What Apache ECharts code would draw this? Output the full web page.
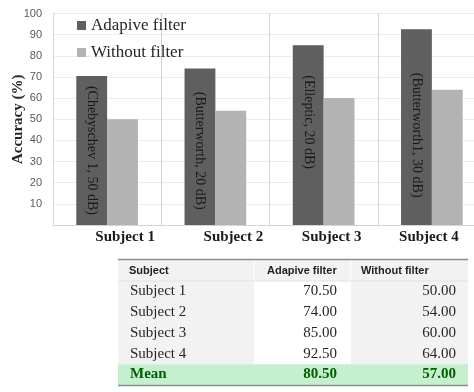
<!DOCTYPE html>
<html>
<head>
<meta charset="utf-8">
<script src="https://cdn.jsdelivr.net/npm/echarts@6/dist/echarts.min.js"></script>
<style>html,body{margin:0;padding:0;background:#fff;}#c{width:474px;height:392px;}</style>
</head>
<body>
<div id="c"></div>
<script>
const categories = ['Subject 1', 'Subject 2', 'Subject 3', 'Subject 4'];
const seriesNames = ['Adapive filter', 'Without filter'];
const adaptive = [70.5, 74.0, 85.0, 92.5];
const without = [50.0, 54.0, 60.0, 64.0];
const barNotes = ['(Chebyschev 1, 50 dB)', '(Butterworth, 20 dB)', '(Elleptic, 20 dB)', '(Butterworth1, 30 dB)'];
const yTicks = [0, 10, 20, 30, 40, 50, 60, 70, 80, 90, 100];
const tableHeader = ['Subject', 'Adapive filter', 'Without filter'];
const meanLabel = 'Mean';

const mean = a => a.reduce((s, v) => s + v, 0) / a.length;

const SERIF = '"Liberation Serif", "Times New Roman", serif';
const SANS = '"Liberation Sans", Arial, sans-serif';

// category label nudges (layout only)
const labelShift = [18, 18, 8, -3];
const rich = {};
labelShift.forEach((s, i) => {
  rich['c' + i] = {
    fontFamily: SERIF, fontWeight: 'bold', fontSize: 15, color: '#1a1a1a',
    padding: s >= 0 ? [0, 0, 0, 2 * s] : [0, -2 * s, 0, 0]
  };
});
// in-bar note nudges along the bar (layout only)
const noteShift = [0, 4, -13, 8];

// table graphics
const colX = [118, 254, 351, 468];
const headTop = 260, headH = 21, rowH = 20.8;
const g = [];
g.push({ type: 'rect', shape: { x: colX[0], y: headTop, width: colX[3] - colX[0], height: headH }, style: { fill: '#f2f2f2' } });
categories.forEach((c, i) => {
  const y = headTop + headH + i * rowH;
  g.push({ type: 'rect', shape: { x: colX[0], y: y, width: colX[1] - colX[0], height: rowH }, style: { fill: '#f2f2f2' } });
  g.push({ type: 'rect', shape: { x: colX[1], y: y, width: colX[2] - colX[1], height: rowH }, style: { fill: '#ffffff' } });
  g.push({ type: 'rect', shape: { x: colX[2], y: y, width: colX[3] - colX[2], height: rowH }, style: { fill: '#f2f2f2' } });
});
const meanTop = headTop + headH + categories.length * rowH;
g.push({ type: 'rect', shape: { x: colX[0], y: meanTop, width: colX[3] - colX[0], height: rowH }, style: { fill: '#c6efce' } });
// separators
g.push({ type: 'line', shape: { x1: colX[1], y1: headTop, x2: colX[1], y2: headTop + headH }, style: { stroke: '#ffffff', lineWidth: 1 } });
g.push({ type: 'line', shape: { x1: colX[2], y1: headTop, x2: colX[2], y2: headTop + headH }, style: { stroke: '#ffffff', lineWidth: 1 } });
g.push({ type: 'line', shape: { x1: colX[0], y1: headTop + headH, x2: colX[3], y2: headTop + headH }, style: { stroke: '#e2e2e2', lineWidth: 1 } });
g.push({ type: 'line', shape: { x1: colX[0], y1: headTop - 0.5, x2: colX[3], y2: headTop - 0.5 }, style: { stroke: '#8c8c8c', lineWidth: 1.5 } });
g.push({ type: 'line', shape: { x1: colX[0], y1: meanTop + rowH + 0.5, x2: colX[3], y2: meanTop + rowH + 0.5 }, style: { stroke: '#8c8c8c', lineWidth: 1.5 } });

const txt = (t, x, y, font, fill, align) => ({ type: 'text', z: 10, style: { text: t, x: x, y: y, font: font, fill: fill, textAlign: align, textVerticalAlign: 'middle' } });
const hy = headTop + headH / 2;
const hFont = 'bold 11px ' + SANS;
g.push(txt(tableHeader[0], 129, hy, hFont, '#222', 'left'));
g.push(txt(tableHeader[1], 267, hy, hFont, '#222', 'left'));
g.push(txt(tableHeader[2], 361, hy, hFont, '#222', 'left'));
const bFont = '15px ' + SERIF;
categories.forEach((c, i) => {
  const y = headTop + headH + i * rowH + rowH / 2;
  g.push(txt(c, 130, y, bFont, '#262626', 'left'));
  g.push(txt(adaptive[i].toFixed(2), 337, y, bFont, '#262626', 'right'));
  g.push(txt(without[i].toFixed(2), 456, y, bFont, '#262626', 'right'));
});
const my = meanTop + rowH / 2;
const mFont = 'bold 15px ' + SERIF;
g.push(txt(meanLabel, 130, my, mFont, '#006100', 'left'));
g.push(txt(mean(adaptive).toFixed(2), 337, my, mFont, '#006100', 'right'));
g.push(txt(mean(without).toFixed(2), 456, my, mFont, '#006100', 'right'));

const chart = echarts.init(document.getElementById('c'), null, { renderer: 'canvas' });
chart.setOption({
  animation: false,
  backgroundColor: '#ffffff',
  grid: { left: 53, right: -12, top: 13.5, bottom: 167, containLabel: false, outerBoundsMode: 'none' },
  legend: {
    orient: 'vertical', left: 77, top: 17, padding: 0,
    itemWidth: 9, itemHeight: 9, itemGap: 10,
    icon: 'rect',
    textStyle: { fontFamily: SERIF, fontSize: 17, color: '#262626' },
    data: seriesNames
  },
  xAxis: {
    type: 'category', data: categories,
    axisLine: { show: true, lineStyle: { color: '#d4d4d4', width: 1 } },
    axisTick: { show: false },
    splitLine: { show: true, interval: 0, lineStyle: { color: '#d4d4d4', width: 1 } },
    axisLabel: {
      margin: 5, interval: 0,
      formatter: (v, i) => '{c' + i + '|' + v + '}',
      rich: rich
    }
  },
  yAxis: {
    type: 'value', min: yTicks[0], max: yTicks[yTicks.length - 1], interval: yTicks[1] - yTicks[0],
    name: 'Accuracy (%)', nameLocation: 'middle', nameRotate: 90, nameGap: 27, nameMoveOverlap: false,
    nameTextStyle: { fontFamily: SERIF, fontWeight: 'bold', fontSize: 15, color: '#262626' },
    axisLine: { show: true, lineStyle: { color: '#d9d9d9' } },
    axisTick: { show: false },
    axisLabel: { fontFamily: SANS, fontSize: 11, color: '#595959', margin: 11, formatter: v => v === 0 ? '' : String(v) },
    splitLine: { show: true, lineStyle: { color: '#ececec', width: 1 } }
  },
  series: [
    {
      name: seriesNames[0], type: 'bar',
      data: adaptive.map((v, i) => ({ value: v, label: { offset: [noteShift[i], 0] } })),
      barGap: '0%', barCategoryGap: '43%',
      itemStyle: { color: '#5f5f5f' },
      label: {
        show: true, position: 'inside', rotate: -90,
        formatter: p => barNotes[p.dataIndex],
        fontFamily: SERIF, fontSize: 14, color: '#1a1a1a'
      }
    },
    {
      name: seriesNames[1], type: 'bar', data: without,
      itemStyle: { color: '#b3b3b3' }
    }
  ],
  graphic: { elements: g }
});
</script>
</body>
</html>
